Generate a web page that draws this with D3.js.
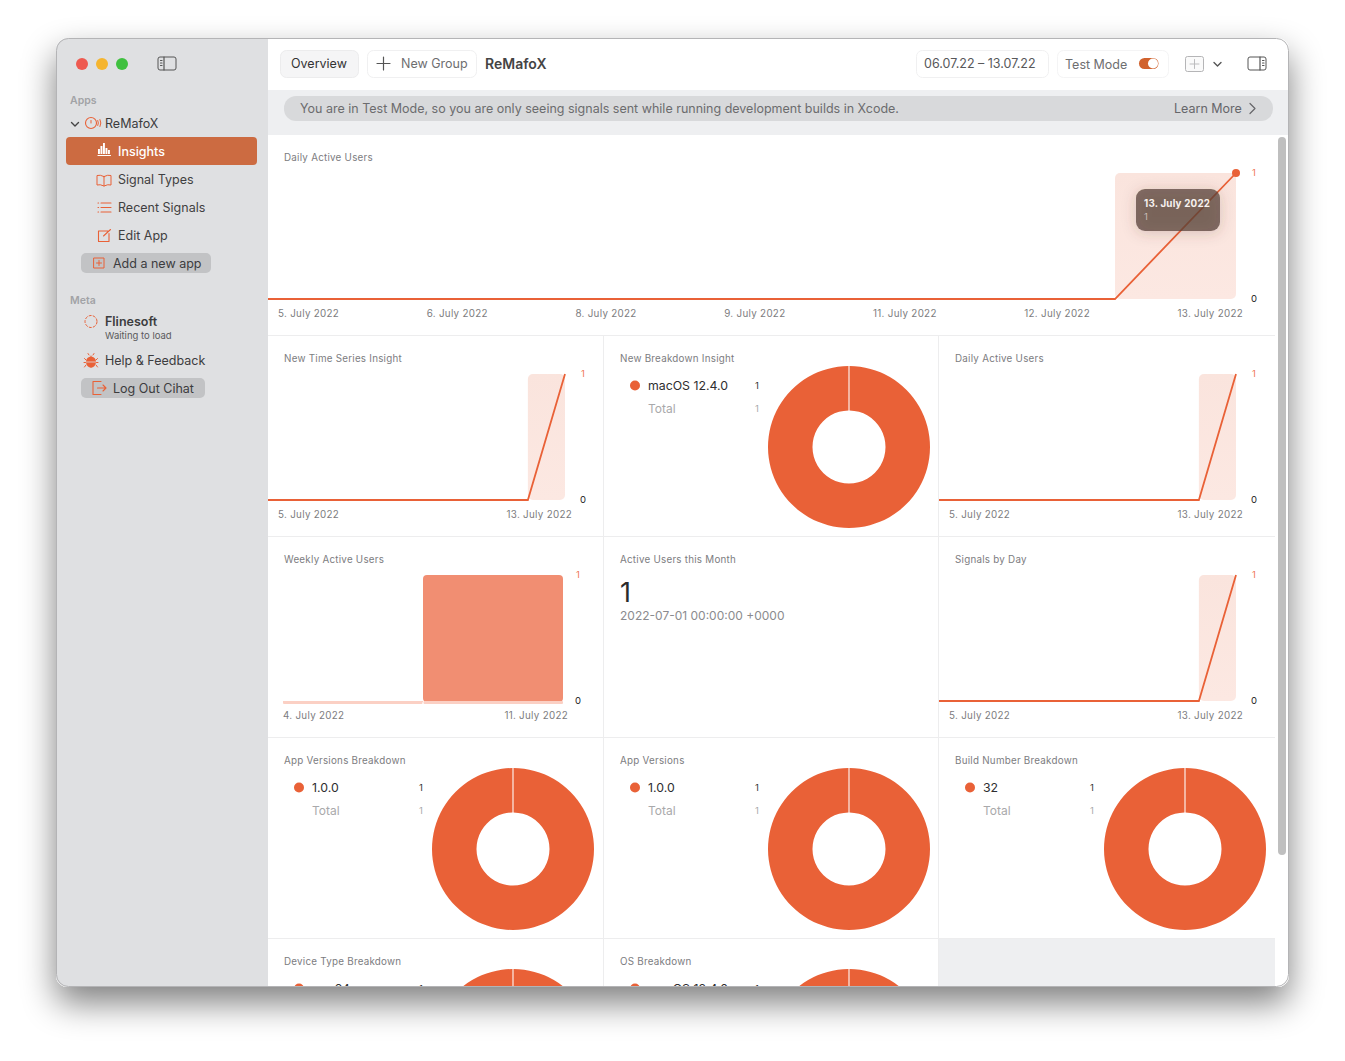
<!DOCTYPE html>
<html>
<head>
<meta charset="utf-8">
<script src="https://cdn.jsdelivr.net/npm/d3@7"></script>
<style>
  html, body { margin: 0; background: #fff; }
  svg { display: block; }
  text { font-family: Inter, "Noto Sans", sans-serif; }
</style>
</head>
<body>
<div id="chart"></div>
<script>
// values
const dayDates = ["5. July 2022", "6. July 2022", "7. July 2022", "8. July 2022", "9. July 2022", "10. July 2022", "11. July 2022", "12. July 2022", "13. July 2022"];
const dayValues = [0, 0, 0, 0, 0, 0, 0, 0, 1];
const dayTicksFull = ["5. July 2022", "6. July 2022", "8. July 2022", "9. July 2022", "11. July 2022", "12. July 2022", "13. July 2022"];
const dayTicksShort = ["5. July 2022", "13. July 2022"];
const weekDates = ["4. July 2022", "11. July 2022"];
const weekValues = [0, 1];
const yTicks = [0, 1];
const osLegend = ["macOS 12.4.0"];
const versionLegend = ["1.0.0"];
const buildLegend = ["32"];
const deviceLegend = ["arm64"];
const breakdownValues = [1];
const sidebarItems = ["Signal Types", "Recent Signals", "Edit App"];

const ORANGE = "#e96137";
const W = 1345, H = 1061;
const win = {x: 56, y: 38, w: 1233, h: 949};
const colX = [268, 604, 939], colR = [603, 938, 1275];
const rowY = [135, 336, 537, 738, 939];

const svg = d3.select("#chart").append("svg").attr("width", W).attr("height", H);
const defs = svg.append("defs");

const shadow = defs.append("filter").attr("id", "winShadow")
  .attr("x", "-10%").attr("y", "-10%").attr("width", "120%").attr("height", "125%");
shadow.append("feGaussianBlur").attr("in", "SourceAlpha").attr("stdDeviation", 17).attr("result", "b");
shadow.append("feOffset").attr("in", "b").attr("dy", 16).attr("result", "o");
shadow.append("feComponentTransfer").attr("in", "o").attr("result", "s")
  .append("feFuncA").attr("type", "linear").attr("slope", 0.5);
const sm = shadow.append("feMerge");
sm.append("feMergeNode").attr("in", "s");
sm.append("feMergeNode").attr("in", "SourceGraphic");

const tipShadow = defs.append("filter").attr("id", "tipShadow")
  .attr("x", "-40%").attr("y", "-60%").attr("width", "180%").attr("height", "220%");
tipShadow.append("feDropShadow").attr("dx", 0).attr("dy", 2).attr("stdDeviation", 7)
  .attr("flood-color", "#5a3a2c").attr("flood-opacity", 0.3);

const grad = defs.append("linearGradient").attr("id", "areaFill").attr("x1", 0).attr("x2", 0).attr("y1", 0).attr("y2", 1);
grad.append("stop").attr("offset", 0).attr("stop-color", "#fae4dd");
grad.append("stop").attr("offset", 1).attr("stop-color", "#fce8e2");

defs.append("clipPath").attr("id", "winClip").append("rect")
  .attr("x", win.x).attr("y", win.y).attr("width", win.w).attr("height", win.h).attr("rx", 12);

svg.append("rect").attr("x", win.x).attr("y", win.y).attr("width", win.w).attr("height", win.h)
  .attr("rx", 12).attr("fill", "#fff").attr("filter", "url(#winShadow)");

const root = svg.append("g").attr("clip-path", "url(#winClip)");

function label(g, x, y, str, size, color, opts = {}) {
  return g.append("text").attr("x", x).attr("y", y).attr("dy", "0.36em")
    .attr("font-size", size).attr("fill", color)
    .attr("font-weight", opts.weight || 400)
    .attr("text-anchor", opts.anchor || "start")
    .attr("letter-spacing", opts.spacing || 0)
    .text(str);
}
function box(g, x0, y0, x1, y1, r, fill, stroke) {
  return g.append("rect").attr("x", x0).attr("y", y0).attr("width", x1 - x0).attr("height", y1 - y0)
    .attr("rx", r).attr("fill", fill).attr("stroke", stroke || "none");
}
function icon(g, d, color, w) {
  return g.append("path").attr("d", d).attr("fill", "none").attr("stroke", color)
    .attr("stroke-width", w || 1.2).attr("stroke-linecap", "round").attr("stroke-linejoin", "round");
}

/* ---- sidebar ---- */
const side = root.append("g");
box(side, win.x, win.y, 268, win.y + win.h, 0, "#dfe0e2");
side.selectAll("circle.light").data(["#ee5a50", "#f5b52f", "#3fc03f"]).enter().append("circle")
  .attr("cx", (d, i) => 82 + i * 20).attr("cy", 64).attr("r", 6).attr("fill", d => d);

box(side, 158, 57, 176, 70, 2, "none", "#555");
icon(side, "M164 57V70M160.5 60.5h1.5M160.5 63h1.5M160.5 65.5h1.5", "#555");

label(side, 70, 100.5, "Apps", 10.5, "#a2a3a6", {weight: 600});
icon(side, "M71.5 122.5L75 126L78.500 122.500", "#444", 1.4);
side.append("circle").attr("cx", 91).attr("cy", 123).attr("r", 5.5).attr("fill", "none").attr("stroke", ORANGE).attr("stroke-width", 1.1);
icon(side, "M91 120.500V123M97.800 120.500Q99 123 97.800 125.500M100 119.500Q101.800 123 100 126.500", ORANGE, 1);
label(side, 105, 123.5, "ReMafoX", 12.5, "#3c3c3e");

box(side, 66, 137, 257, 165, 4, "#cc6b41");
icon(side, "M98 155.500H110.500", "#fff", 1.2);
side.selectAll("rect.ins").data([5, 8, 11, 6, 4]).enter().append("rect")
  .attr("x", (d, i) => 98 + i * 2.5).attr("y", d => 154 - d).attr("width", 1.9).attr("height", d => d).attr("fill", "#fff");
label(side, 118, 151.5, "Insights", 12.5, "#fff", {weight: 500});

sidebarItems.forEach((t, i) => label(side, 118, 179.5 + i * 28, t, 12.5, "#3f3f41"));
icon(side, "M104 176.500Q100 174.500 97 175.500V185Q100 184 104 186Q108 184 111 185V175.500Q108 174.500 104 176.500ZM104 176.500V186", ORANGE, 1);
d3.range(3).forEach(i => icon(side, `M98 ${203 + i * 4.500}h.6M101 ${203 + i * 4.500}H111`, ORANGE, 1.1));
icon(side, "M108 231H98.500V241.500H109V233.500M103.500 236L110.500 229.500", ORANGE, 1.1);

box(side, 81, 253, 211, 273, 5, "#c2c3c5");
icon(side, "M94 258H104V268H94ZM99 260.500V265.500M96.500 263H101.500", ORANGE, 1);
label(side, 113, 263, "Add a new app", 12.5, "#3c3c3e");

label(side, 70, 300.5, "Meta", 10.5, "#a2a3a6", {weight: 600});
side.append("circle").attr("cx", 91).attr("cy", 321.500).attr("r", 6).attr("fill", "none")
  .attr("stroke", ORANGE).attr("stroke-width", 1).attr("stroke-dasharray", "3 1.2");
label(side, 105, 321.500, "Flinesoft", 12.500, "#3c3c3e", {weight: 600});
label(side, 105, 335.500, "Waiting to load", 9.500, "#5a5a5c");
side.append("ellipse").attr("cx", 91).attr("cy", 362).attr("rx", 5).attr("ry", 5.500).attr("fill", ORANGE);
icon(side, "M91 356V367.500M86 360L84.500 358.500M96 360L97.500 358.500M85.500 362.500H84M96.500 362.500H98M86 365L84.500 367M96 365L97.500 367M89 355L88 353.500M93 355L94 353.500", ORANGE, 1);
icon(side, "M86.500 362h9", "#dfe0e2", 0.8);
label(side, 105, 360.500, "Help & Feedback", 12.500, "#3c3c3e");

box(side, 81, 378, 205, 398, 5, "#c2c3c5");
icon(side, "M101 381.500H93V394.500H101M97.500 388H106M103 385L106 388L103 391", ORANGE, 1.1);
label(side, 113, 388, "Log Out Cihat", 12.500, "#3c3c3e");

/* ---- toolbar ---- */
const bar = root.append("g");
box(bar, 280.500, 50.500, 358.500, 77.500, 6, "#f5f5f6", "#ececed");
label(bar, 291, 63.500, "Overview", 12.500, "#333");
box(bar, 367.500, 50.500, 476.500, 77.500, 6, "#fff", "#f0f0f1");
icon(bar, "M383.500 57V70M377 63.500H390", "#555", 1.2);
label(bar, 401, 63.500, "New Group", 12.500, "#6e6e70");
label(bar, 485, 63.500, "ReMafoX", 14, "#444", {weight: 600});
box(bar, 916.500, 50.500, 1048.500, 77.500, 6, "#fff", "#f0f0f1");
label(bar, 924, 63.500, "06.07.22 – 13.07.22", 12.500, "#58585a");
box(bar, 1057.500, 50.500, 1168.500, 77.500, 6, "#fff", "#f4f4f5");
label(bar, 1065, 64.500, "Test Mode", 12.500, "#6e6e70");
box(bar, 1139, 58, 1158.500, 69, 5.500, "#d1622d");
bar.append("circle").attr("cx", 1153).attr("cy", 63.500).attr("r", 5).attr("fill", "#fff");
box(bar, 1185.500, 56.500, 1203.500, 71.500, 2, "#fafafa", "#b5b5b7");
icon(bar, "M1194.500 59.500V68.500M1190 64H1199", "#bcbcbe", 1);
icon(bar, "M1214 62.500L1217.500 66L1221 62.500", "#555", 1.400);
box(bar, 1248, 57, 1266, 70, 2, "none", "#555");
icon(bar, "M1260 57V70M1262.500 60.500H1264M1262.500 63H1264M1262.500 65.500H1264", "#555");

/* ---- test mode banner ---- */
box(root, 268, 90, win.x + win.w, 135, 0, "#eeeff1");
box(root, 284, 96, 1273, 121, 12, "#d8d9db");
label(root, 300, 108.500, "You are in Test Mode, so you are only seeing signals sent while running development builds in Xcode.", 12.500, "#6c6c6e");
label(root, 1174, 108.500, "Learn More", 12.500, "#66666a");
icon(root, "M1250 103.500L1255 108.500L1250 113.500", "#66666a", 1.200);

/* ---- grid ---- */
box(root, colX[2], rowY[4], colR[2], win.y + win.h, 0, "#eeeff1");
const sep = root.append("g").attr("stroke", "#ededee").attr("stroke-width", 1);
rowY.slice(1).forEach(y => sep.append("line").attr("x1", 268).attr("x2", colR[2]).attr("y1", y - 0.5).attr("y2", y - 0.5));
colR.slice(0, 2).forEach(x => sep.append("line").attr("x1", x + 0.5).attr("x2", x + 0.5).attr("y1", rowY[1]).attr("y2", win.y + win.h));
box(root, 1275, 135, win.x + win.w, win.y + win.h, 0, "#fff");
sep.append("line").attr("x1", 1275.500).attr("x2", 1275.500).attr("y1", 135).attr("y2", win.y + win.h);
box(root, 1278, 137, 1286, 855, 4, "#bfbfbf");

function cardTitle(col, row, str) {
  label(root, colX[col] + 16, rowY[row] + 22.500, str, 9.800, "#7c7c80", {spacing: 0.25});
}

// ticks spread like a space-between row: first flush left, last flush right
function spaceBetweenTicks(g, ticks, left, right, y) {
  const pos = d3.scalePoint().domain(ticks).range([left, right]);
  const axis = g.append("g").attr("transform", `translate(0,${y})`)
    .call(d3.axisBottom(pos).tickSize(0).tickPadding(0));
  axis.select(".domain").remove();
  const texts = axis.selectAll("text")
    .attr("font-family", "Inter, sans-serif").attr("font-size", 9.800).attr("letter-spacing", 0.3)
    .attr("fill", "#7c7c7e").attr("text-anchor", "start").attr("dy", "0.36em").attr("y", 0);
  const widths = texts.nodes().map(n => n.getComputedTextLength());
  const gap = ticks.length > 1 ? (right - left - d3.sum(widths)) / (ticks.length - 1) : 0;
  let cur = left;
  axis.selectAll(".tick").each(function (d, i) {
    d3.select(this).attr("transform", `translate(${cur},0)`);
    cur += widths[i] + gap;
  });
}

function yLabels(g, y, x) {
  g.selectAll("text.yl").data(yTicks).enter().append("text").attr("class", "yl")
    .attr("x", x).attr("y", d => y(d)).attr("dy", "0.36em").attr("text-anchor", "middle")
    .attr("font-size", 9.500).attr("fill", d => d ? "#f0785a" : "#222").text(d => d);
}

function lineChart(col, row, right, ticks, tickRight, big) {
  const g = root.append("g");
  const x = d3.scalePoint().domain(dayDates).range([colX[col], right]);
  const y = d3.scaleLinear().domain(yTicks).range([rowY[row] + (big ? 164 : 164), rowY[row] + (big ? 38 : 38)]);
  const last = dayDates.length - 1;
  g.append("rect").attr("x", x(dayDates[last - 1])).attr("y", y(1))
    .attr("width", x(dayDates[last]) - x(dayDates[last - 1])).attr("height", y(0) - y(1))
    .attr("rx", 5).attr("fill", "url(#areaFill)");
  g.append("path").datum(dayValues)
    .attr("d", d3.line().x((d, i) => x(dayDates[i])).y(d => y(d)))
    .attr("fill", "none").attr("stroke", ORANGE).attr("stroke-width", 1.800);
  spaceBetweenTicks(g, ticks, colX[col] + 10, tickRight, y(0) + 14.500);
  yLabels(g, y, tickRight + 11 - (col === 0 && !big ? 0 : 0));
  return {g, x, y};
}

/* full width daily chart with tooltip */
cardTitle(0, 0, "Daily Active Users");
const main = lineChart(0, 0, 1236, dayTicksFull, 1243, true);
main.g.append("circle").attr("cx", main.x(dayDates[8])).attr("cy", main.y(dayValues[8])).attr("r", 4).attr("fill", ORANGE);
const tip = main.g.append("g");
box(tip, 1136, 189, 1220, 231, 9, "rgba(84,62,52,0.72)").attr("filter", "url(#tipShadow)");
label(tip, 1144, 203.500, dayDates[8], 9.800, "#f7f1ee", {weight: 700, spacing: 0.2});
label(tip, 1144, 216.500, dayValues[8], 9.500, "#c9bdb7");

cardTitle(0, 1, "New Time Series Insight");
lineChart(0, 1, 565, dayTicksShort, 572);
cardTitle(2, 1, "Daily Active Users");
lineChart(2, 1, 1236, dayTicksShort, 1243);
cardTitle(2, 2, "Signals by Day");
lineChart(2, 2, 1236, dayTicksShort, 1243);

/* weekly bars */
cardTitle(0, 2, "Weekly Active Users");
const wk = root.append("g");
const wx = d3.scaleBand().domain(weekDates).range([283, 563]);
const wy = d3.scaleLinear().domain(yTicks).range([rowY[2] + 164, rowY[2] + 38]);
wk.selectAll("rect.bar").data(weekValues).enter().append("rect")
  .attr("x", (d, i) => wx(weekDates[i])).attr("y", d => wy(d))
  .attr("width", wx.bandwidth()).attr("height", d => wy(0) - wy(d) + 1)
  .attr("rx", 4).attr("fill", "#f18e72");
wk.selectAll("rect.base").data(weekValues).enter().append("rect")
  .attr("x", (d, i) => wx(weekDates[i]) + (i ? 0.500 : 0)).attr("y", wy(0))
  .attr("width", wx.bandwidth() - 0.500).attr("height", 3)
  .attr("rx", 1).attr("fill", "#fbd0c4");
spaceBetweenTicks(wk, weekDates, 283, 568, wy(0) + 14.500);
yLabels(wk, wy, 578);

/* single value card */
cardTitle(1, 2, "Active Users this Month");
label(root, 620, 592, "1", 27, "#2a2a2c");
label(root, 620, 616, "2022-07-01 00:00:00 +0000", 12, "#8b8b8e");

/* donuts */
const pie = d3.pie().sort(null);
const arc = d3.arc().innerRadius(36.500).outerRadius(81);

function donut(col, row, title, names, values) {
  cardTitle(col, row, title);
  const g = root.append("g");
  const cx = colX[col];
  const top = rowY[row];
  g.selectAll("circle").data(names).enter().append("circle")
    .attr("cx", cx + 31).attr("cy", (d, i) => top + 49.500 + i * 23).attr("r", 5).attr("fill", ORANGE);
  names.forEach((n, i) => {
    label(g, cx + 44, top + 49.500 + i * 23, n, 12.300, "#2e2e30");
    label(g, cx + 151, top + 49.500 + i * 23, values[i], 9.500, "#333");
  });
  const ty = top + 49.500 + names.length * 23.500;
  label(g, cx + 44, ty, "Total", 12, "#a9a9ab");
  label(g, cx + 151, ty, d3.sum(values), 9.500, "#a9a9ab");
  g.append("g").attr("transform", `translate(${cx + (col === 2 ? 246 : 245)},${top + 111})`)
    .selectAll("path").data(pie(values)).enter().append("path")
    .attr("d", d => arc({startAngle: d.startAngle, endAngle: d.endAngle - 1e-6, padAngle: 0.012}))
    .attr("fill", ORANGE);
}

donut(1, 1, "New Breakdown Insight", osLegend, breakdownValues);
donut(0, 3, "App Versions Breakdown", versionLegend, breakdownValues);
donut(1, 3, "App Versions", versionLegend, breakdownValues);
donut(2, 3, "Build Number Breakdown", buildLegend, breakdownValues);
donut(0, 4, "Device Type Breakdown", deviceLegend, breakdownValues);
donut(1, 4, "OS Breakdown", osLegend, breakdownValues);

/* window edge */
svg.append("rect").attr("x", win.x + 0.500).attr("y", win.y + 0.500).attr("width", win.w - 1).attr("height", win.h - 1)
  .attr("rx", 12).attr("fill", "none").attr("stroke", "#b4b4b6").attr("stroke-width", 1);
</script>
</body>
</html>
